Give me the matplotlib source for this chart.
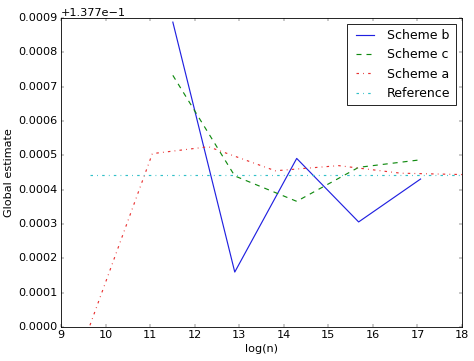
import matplotlib
matplotlib.use("Agg")
import matplotlib.pyplot as plt
from matplotlib.ticker import ScalarFormatter

plt.style.use('classic')
plt.rcParams['font.size'] = 13.5
plt.rcParams['lines.linewidth'] = 1.4

base = 0.1377
x_bc = [11.51, 12.90, 14.29, 15.68, 17.07]
scheme_b = [0.000888, 0.000160, 0.000491, 0.000306, 0.000431]
scheme_c = [0.000733, 0.000440, 0.000366, 0.000465, 0.000487]
x_a = [9.65, 11.05, 12.31, 13.81, 15.23, 16.62, 18.01]
scheme_a = [0.000005, 0.000505, 0.000525, 0.000455, 0.000470, 0.000448, 0.000444]
x_ref = [9.65, 18.01]
reference = [0.000444, 0.000444]
y_ticks = [0.0000, 0.0001, 0.0002, 0.0003, 0.0004, 0.0005, 0.0006, 0.0007, 0.0008, 0.0009]

fig = plt.figure(figsize=(474/60, 361/60), dpi=60)
ax = fig.add_axes([61/474, 1-327/361, (462-61)/474, (327-18)/361])

ax.plot(x_bc, [base + v for v in scheme_b], color='#2020e0', linestyle='-', label='Scheme b')
ax.plot(x_bc, [base + v for v in scheme_c], color='#108a10', linestyle='--', label='Scheme c')
ax.plot(x_a, [base + v for v in scheme_a], color='#e83030', linestyle='-.', label='Scheme a')
ax.plot(x_ref, [base + v for v in reference], color='#30c0c8', linestyle='-.', label='Reference')

ax.set_xlim(9, 18)
ax.set_yticks([base + t for t in y_ticks])
ax.set_ylim(base, base + 0.0009)
fmt = ScalarFormatter(useOffset=base)
ax.yaxis.set_major_formatter(fmt)
ax.set_xlabel('log(n)')
ax.set_ylabel('Global estimate')
ax.legend(loc='upper right', fontsize=15)

fig.savefig('out.png', dpi=60)
